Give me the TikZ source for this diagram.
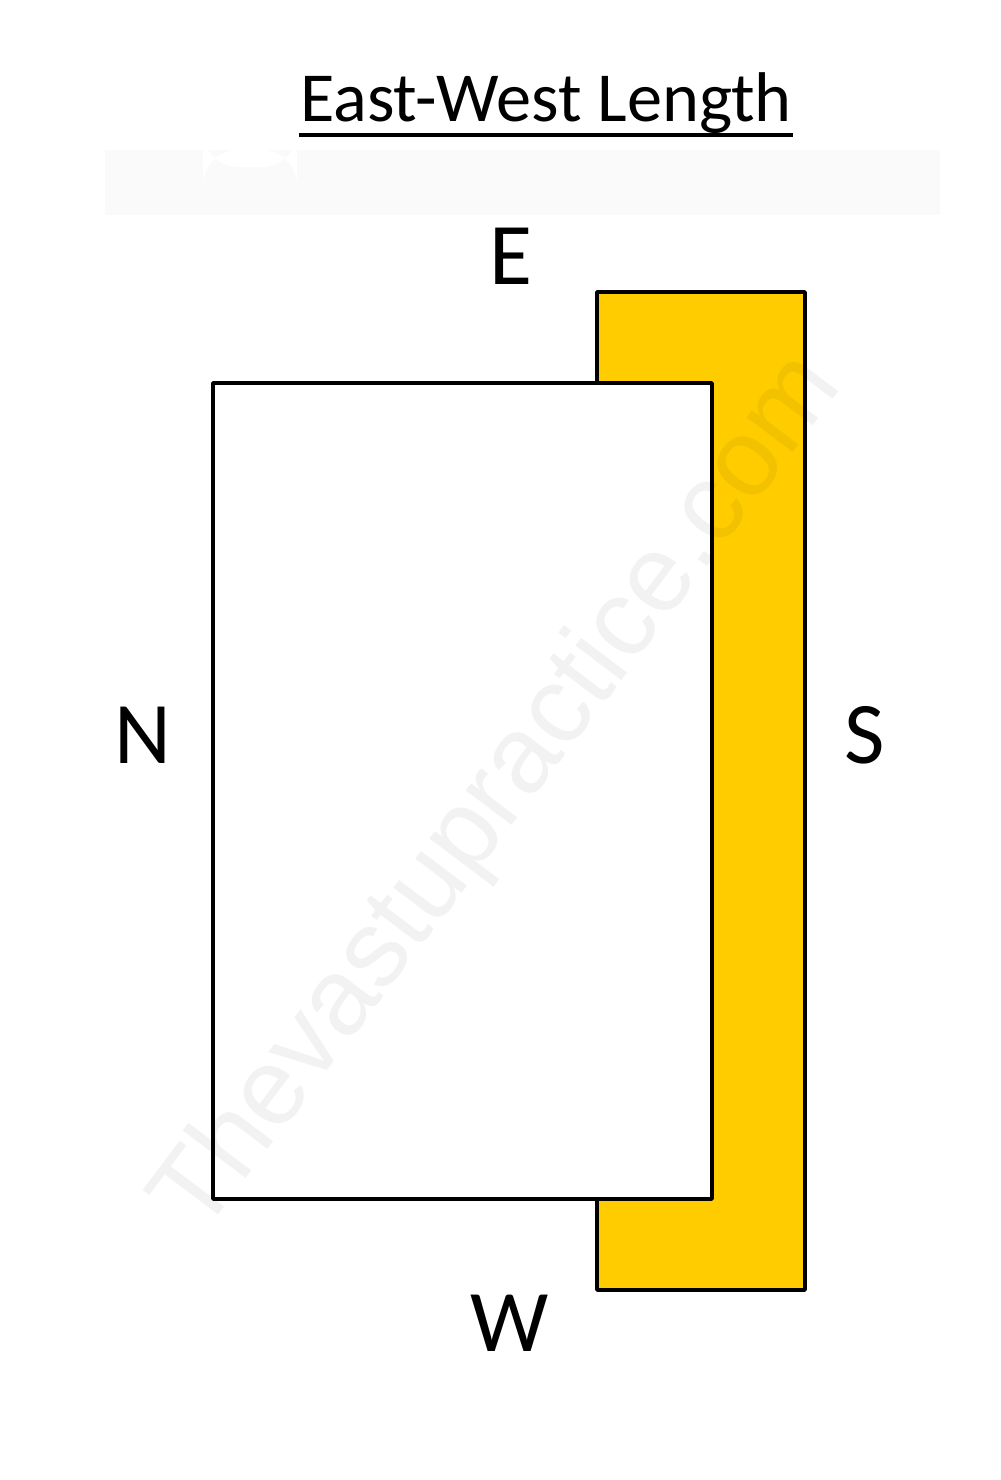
\documentclass[tikz,border=0pt]{standalone}
\usepackage{fontspec}
\setmainfont{Carlito}
\newfontfamily\markfont{Liberation Sans}
\definecolor{plotgold}{HTML}{FFCC00}
\definecolor{bandgray}{HTML}{FAFAFA}
\tikzset{
  dirlabel/.style={anchor=base,inner sep=0pt,font=\fontsize{25}{30}\selectfont},
  plotline/.style={line width=1pt,line join=round}
}
\begin{document}
\begin{tikzpicture}[line cap=round,line join=round,x=0.01cm,y=-0.01cm]
		\useasboundingbox (0,0) rectangle (1000,1480);
		% faint band under the title
		\fill[bandgray] (105,150) rectangle (940,215);
		\fill[white,rounded corners=10] (203,150) -- (203,167) -- (297,167) -- (297,150) -- cycle;
		% title
		\node[anchor=base,inner sep=0pt,font=\fontsize{20}{24}\selectfont] (title) at (546,122) {East-West Length};
		\draw[line width=1.1pt,line cap=butt] ([yshift=-3.6pt]title.base west) -- ([yshift=-3.6pt]title.base east);
		% extension strip and plot
		\draw[plotline,fill=plotgold] (597,292) rectangle (805,1290);
		\draw[plotline,fill=white] (213,383) rectangle (712,1199);
		% watermark
		\node[rotate=53,inner sep=0pt,text=black,text opacity=0.05,font=\markfont\fontsize{31}{37}\selectfont] (mark) at (500,795) {Thevastupractice.com};
		% directions
		\node[dirlabel] (east) at (511,285) {E};
		\node[dirlabel] (north) at (143,763) {N};
		\node[dirlabel] (south) at (865,764) {S};
		\node[dirlabel] (west) at (510,1351) {W};
\end{tikzpicture}
\end{document}
